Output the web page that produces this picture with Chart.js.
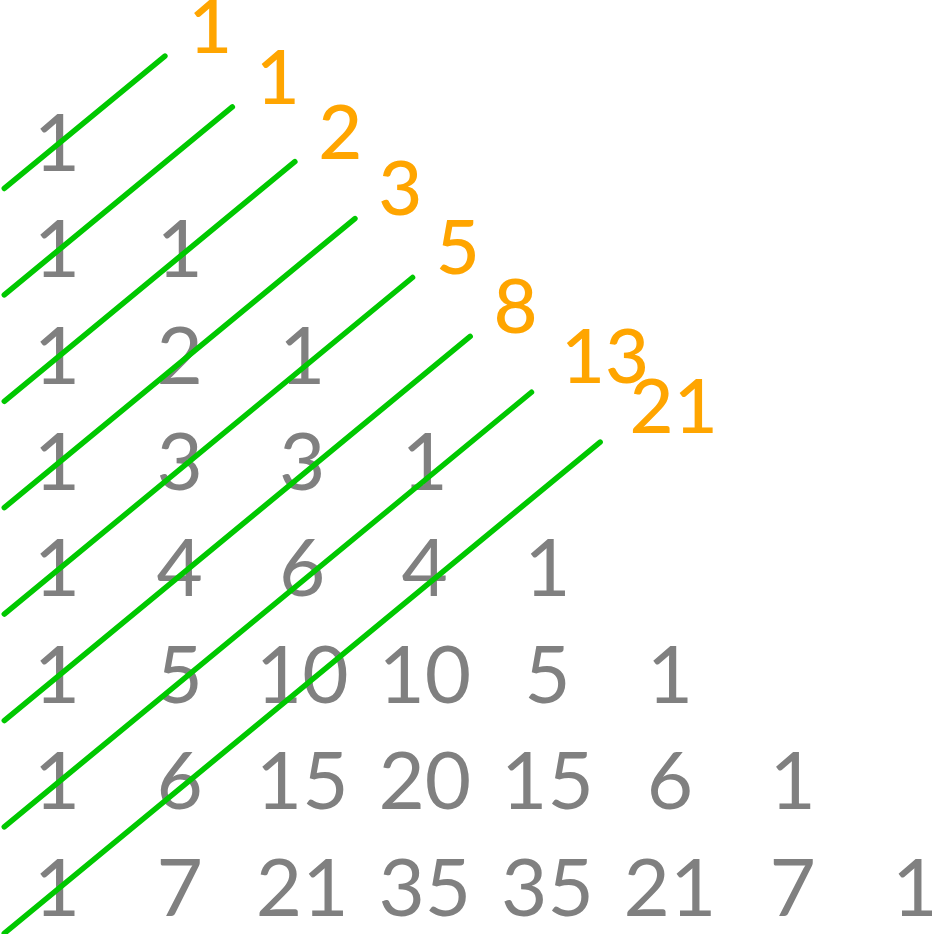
<!DOCTYPE html>
<html><head><meta charset="utf-8">
<script src="https://cdn.jsdelivr.net/npm/chart.js@4"></script>
<style>html,body{margin:0;padding:0;background:#fff}#w{width:932px;height:934px}</style>
</head><body><div id="w"><canvas id="c"></canvas></div>
<script>
const pascalRows = [
  [1],[1,1],[1,2,1],[1,3,3,1],[1,4,6,4,1],[1,5,10,10,5,1],[1,6,15,20,15,6,1],[1,7,21,35,35,21,7,1]
];
const fibonacci = [1,1,2,3,5,8,13,21];
const diagonalEndCol = [0.88,1.43,1.94,2.43,2.90,3.37,3.87,4.43];
const slope = -0.95, startCol = -0.43;

const pascalPts = [];
pascalRows.forEach((row,r)=>row.forEach((v,c)=>pascalPts.push({x:c,y:r,v})));
const lineSets = diagonalEndCol.map((xe,k)=>({
  type:'line',data:[{x:startCol,y:k+slope*startCol},{x:xe,y:k+slope*xe}],
  borderColor:'#00C800',borderWidth:5.5,pointRadius:0,borderCapStyle:'round',order:0
}));
const fibPts = fibonacci.map((v,k)=>{const xe=diagonalEndCol[k];const two=String(v).length>1;return {x:xe+(two?0.6:0.37),y:k+slope*xe-(two?0.32:0.26),v};});

const textPlugin={id:'txt',
  beforeDatasetsDraw(ch){const ctx=ch.ctx,xs=ch.scales.x,ys=ch.scales.y;ctx.save();
    ctx.textAlign='center';ctx.textBaseline='middle';
    ctx.font='80px Lato';ctx.fillStyle='#808080';
    pascalPts.forEach(p=>ctx.fillText(String(p.v),xs.getPixelForValue(p.x),ys.getPixelForValue(p.y)));
    ctx.restore();},
  afterDatasetsDraw(ch){const ctx=ch.ctx,xs=ch.scales.x,ys=ch.scales.y;ctx.save();
    ctx.textAlign='center';ctx.textBaseline='middle';
    ctx.font='500 76px Lato';ctx.fillStyle='#FFA500';
    fibPts.forEach(p=>ctx.fillText(String(p.v),xs.getPixelForValue(p.x),ys.getPixelForValue(p.y)));
    ctx.restore();}
};
new Chart(document.getElementById('c'),{
  type:'scatter',
  data:{datasets:[...lineSets,{data:pascalPts,pointRadius:0},{data:fibPts,pointRadius:0}]},
  options:{responsive:true,maintainAspectRatio:false,animation:false,
    layout:{padding:0},
    plugins:{legend:{display:false},tooltip:{enabled:false}},
    scales:{x:{type:'linear',min:-0.465,max:7.137,display:false},
            y:{type:'linear',min:-1.363,max:7.415,reverse:true,display:false}}},
  plugins:[textPlugin]
});
</script></body></html>
